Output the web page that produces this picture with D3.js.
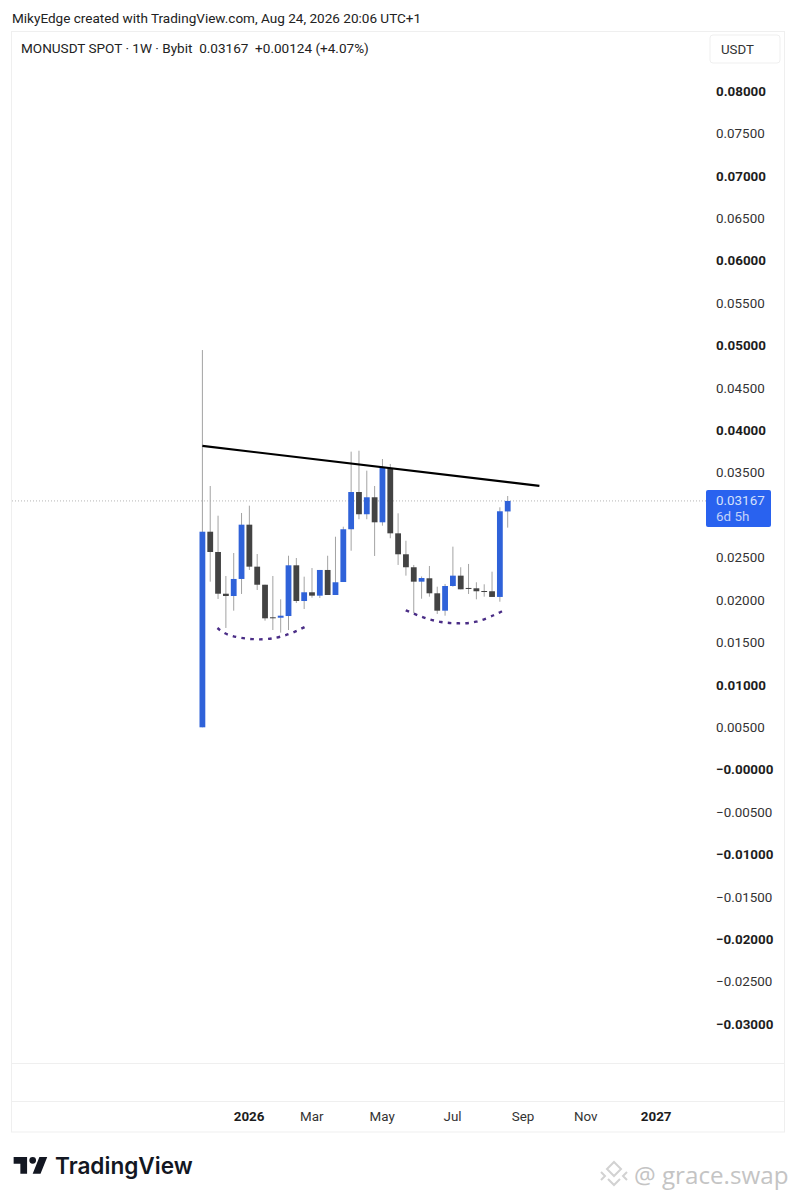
<!DOCTYPE html>
<html>
<head>
<meta charset="utf-8">
<style>
  body { margin: 0; background: #fff; }
  text { font-family: Roboto, sans-serif; }
  .domain, .tick line { display: none; }
</style>
<script src="https://d3js.org/d3.v7.min.js"></script>
</head>
<body>
<script>
// weekly candles, Nov 24 2025 .. Aug 24 2026
var opens = [.00498,.02804,.02565,.02073,.02046,.02247,.02887,.02392,.02179,.01795,.01790,.01810,.02408,.01987,.02090,.02050,.02353,.02058,.02211,.02833,
             .03272,.03010,.03210,.02915,.03552,.02785,.02538,.02385,.02215,.02255,.02078,.01873,.02164,.02286,.02141,.02137,.02105,.02102,.02035,.03043];
var highs = [.04946,.03343,.02993,.02282,.02553,.03025,.03111,.02541,.02179,.02282,.02007,.02521,.02494,.02274,.02376,.02353,.02521,.02745,.02863,.03748,
             .03759,.03524,.03343,.03661,.03603,.03021,.02698,.02412,.02276,.02400,.02156,.02188,.02628,.02385,.02424,.02208,.02184,.02333,.03092,.03225];
var lows  = [.00498,.02215,.02011,.01669,.01873,.02070,.02353,.02117,.01755,.01645,.01614,.01645,.01964,.01893,.02026,.02023,.02058,.02058,.02211,.02580,
             .02951,.02951,.02518,.02875,.02727,.02412,.02286,.01842,.02014,.02038,.01834,.01814,.02156,.02125,.02070,.02007,.02038,.02035,.01979,.02852];
var closes= [.02804,.02565,.02073,.02046,.02247,.02887,.02392,.02179,.01783,.01787,.01814,.02408,.01987,.02090,.02050,.02353,.02058,.02208,.02833,.03272,
             .03010,.03210,.02915,.03564,.02785,.02538,.02385,.02215,.02258,.02078,.01873,.02164,.02286,.02125,.02129,.02102,.02097,.02035,.03045,.03167];

var lastPrice = 0.03167;

var priceTicks = [.08,.075,.07,.065,.06,.055,.05,.045,.04,.035,.025,.02,.015,.01,.005,0,-.005,-.01,-.015,-.02,-.025,-.03];
var boldTicks = [.08,.07,.06,.05,.04,.01,0,-.01,-.02,-.03];

var timeWeeks  = [6, 14, 23, 32, 41, 49, 58];
var timeLabels = ["2026", "Mar", "May", "Jul", "Sep", "Nov", "2027"];
var boldLabels = ["2026", "2027"];

// drawings on the chart: [week index, price]
var trendLine = [[0, .03816], [43.05, .03345]];
var arcLeft  = [[1.92,.01669],[3.8,.01575],[7.75,.01536],[11.07,.01598],[13.33,.01693]];
var arcRight = [[25.98,.01878],[28.22,.01795],[30.49,.01740],[32.71,.01724],[34.96,.01743],[37.21,.01819],[38.31,.01869]];

var width = 796, height = 1200;
var blue = "#2f62d9", dark = "#434343", wick = "#a3a3a3", line = "#efefef";

var svg = d3.select("body").append("svg")
    .attr("width", width)
    .attr("height", height)
    .style("display", "block");

var x = d3.scaleLinear().domain([0, 39]).range([202.4, 507.7]);
var y = d3.scaleLinear().domain([.08, -.03]).range([91, 1024]);

// panel frame
svg.append("rect").attr("x", 11.5).attr("y", 31.5).attr("width", 773).attr("height", 1100.5)
    .attr("fill", "none").attr("stroke", line);
[1063.5, 1101.5].forEach(function(yy) {
  svg.append("line").attr("x1", 11.5).attr("x2", 784.5).attr("y1", yy).attr("y2", yy).attr("stroke", line);
});

svg.append("text").attr("x", 12).attr("y", 23).attr("font-size", 13.55).attr("fill", "#222")
    .text("MikyEdge created with TradingView.com, Aug 24, 2026 20:06 UTC+1");
svg.append("text").attr("x", 21).attr("y", 53).attr("font-size", 13.55).attr("fill", "#222")
    .text("MONUSDT SPOT · 1W · Bybit  0.03167  +0.00124 (+4.07%)").attr("xml:space", "preserve").style("white-space", "pre");

svg.append("rect").attr("x", 710).attr("y", 35).attr("width", 70).attr("height", 28).attr("rx", 3)
    .attr("fill", "#fff").attr("stroke", line);
svg.append("text").attr("x", 721).attr("y", 54).attr("font-size", 13.3).attr("fill", "#333").text("USDT");

// last price line
svg.append("line").attr("x1", 12).attr("x2", 706).attr("y1", y(lastPrice)).attr("y2", y(lastPrice))
    .attr("stroke", "#b5b5b5").attr("stroke-dasharray", "1 2");

// candles
var candles = svg.append("g").selectAll("g").data(opens).join("g");
candles.append("line")
    .attr("x1", function(d, i) { return x(i); })
    .attr("x2", function(d, i) { return x(i); })
    .attr("y1", function(d, i) { return y(highs[i]); })
    .attr("y2", function(d, i) { return y(lows[i]); })
    .attr("stroke", wick).attr("stroke-width", 1);
candles.append("rect")
    .attr("x", function(d, i) { return x(i) - 2.9; })
    .attr("width", 5.8)
    .attr("y", function(d, i) { return y(Math.max(opens[i], closes[i])); })
    .attr("height", function(d, i) { return Math.max(1, Math.abs(y(opens[i]) - y(closes[i]))); })
    .attr("fill", function(d, i) { return closes[i] >= opens[i] ? blue : dark; });

var path = d3.line().x(function(d) { return x(d[0]); }).y(function(d) { return y(d[1]); });

svg.append("path").attr("d", path(trendLine)).attr("fill", "none").attr("stroke", "#000").attr("stroke-width", 2.2);

var arcPath = d3.line().x(function(d) { return x(d[0]); }).y(function(d) { return y(d[1]); }).curve(d3.curveNatural);
[arcLeft, arcRight].forEach(function(a) {
  svg.append("path").attr("d", arcPath(a)).attr("fill", "none")
      .attr("stroke", "#4a2d86").attr("stroke-width", 2.4).attr("stroke-dasharray", "3.6 5.2");
});

// price axis
var yAxis = d3.axisRight(y)
    .tickValues(priceTicks)
    .tickSize(0)
    .tickPadding(0)
    .tickFormat(function(d) {
      var s = Math.abs(d).toFixed(5);
      return (d <= 0 ? "\u2212" : "") + s;
    });
var yG = svg.append("g").attr("transform", "translate(716,0)").call(yAxis);
yG.selectAll("text")
    .attr("font-size", 13.4)
    .attr("fill", function(d) { return boldTicks.indexOf(d) >= 0 ? "#1d1d1d" : "#333"; })
    .attr("font-weight", function(d) { return boldTicks.indexOf(d) >= 0 ? 700 : 400; })
    .style("font-family", "Roboto, sans-serif");

// last price tag
svg.append("rect").attr("x", 706).attr("y", 490).attr("width", 65).attr("height", 37).attr("rx", 2).attr("fill", "#2962ef");
svg.append("text").attr("x", 716).attr("y", 505).attr("font-size", 13.4).attr("fill", "#d5e0fb").text("0.03167");
svg.append("text").attr("x", 716).attr("y", 521).attr("font-size", 13.4).attr("fill", "#c3d2f9").text("6d 5h");

// time axis
var xAxis = d3.axisBottom(x)
    .tickValues(timeWeeks)
    .tickSize(0)
    .tickPadding(0)
    .tickFormat(function(d, i) { return timeLabels[i]; });
var xG = svg.append("g").attr("transform", "translate(-0.8,1111)").call(xAxis);
xG.selectAll("text")
    .attr("font-size", 13.4)
    .attr("fill", function(d, i) { return boldLabels.indexOf(timeLabels[i]) >= 0 ? "#1d1d1d" : "#333"; })
    .attr("font-weight", function(d, i) { return boldLabels.indexOf(timeLabels[i]) >= 0 ? 700 : 400; })
    .style("font-family", "Roboto, sans-serif");

// TradingView logo
svg.append("path")
    .attr("transform", "translate(11.4,1150.2) scale(1.12)")
    .attr("d", "M14 6H2v6h6v9h6V6Zm12 15h-7l6-15h7l-6 15Zm-7-9a3 3 0 1 0 0-6 3 3 0 0 0 0 6Z")
    .attr("fill", "#131722");
svg.append("text").attr("x", 55).attr("y", 1174).attr("font-size", 22.6).attr("font-weight", 600)
    .attr("fill", "#131722").style("font-family", "Inter, sans-serif").text("TradingView");

// watermark
var mark = svg.append("g").attr("transform", "translate(614,1175)")
    .attr("fill", "none").attr("stroke", "#d2d2d2").attr("stroke-width", 2);
mark.append("path").attr("d", "M0 -13 L7 -6 L0 1 L-7 -6 Z");
mark.append("path").attr("d", "M-6 4 L0 10 L6 4");
mark.append("path").attr("d", "M-13 -3 L-9 1 L-13 5 M13 -3 L9 1 L13 5");
svg.append("text").attr("x", 634).attr("y", 1184).attr("font-size", 24.2).attr("fill", "#c4c4c4")
    .style("font-family", "'Open Sans', sans-serif").text("@ grace.swap");
</script>
</body>
</html>
